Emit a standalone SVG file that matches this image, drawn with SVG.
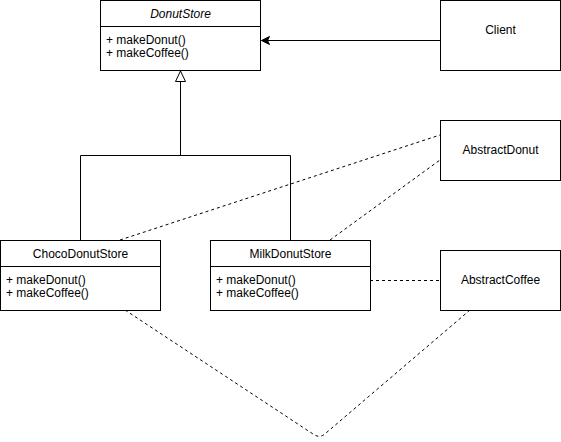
<svg xmlns="http://www.w3.org/2000/svg" width="561" height="442" viewBox="0 0 561 442">
<style>
.box{fill:#fff;stroke:#000;stroke-width:1}
.t{font-family:"Liberation Sans",Arial,sans-serif;font-size:12px;fill:#000}
.c{text-anchor:middle}
.dash{fill:none;stroke:#000;stroke-dasharray:3 3}
.solid{fill:none;stroke:#000}
</style>
<defs>
<marker id="arr" markerWidth="10" markerHeight="10" refX="8" refY="4" orient="auto" markerUnits="userSpaceOnUse">
<path d="M0,0 L8,4 L0,8 L2,4 Z" fill="#000" stroke="#000"/>
</marker>
<marker id="tri" markerWidth="14" markerHeight="14" refX="11" refY="5.5" orient="auto" markerUnits="userSpaceOnUse">
<path d="M0.5,0.5 L11,5.5 L0.5,10.5 Z" fill="#fff" stroke="#000"/>
</marker>
</defs>
<rect width="561" height="442" fill="#fff"/>
<g id="connectors">
<path class="solid" d="M440.5,40.5 L261.5,40.5" marker-end="url(#arr)"/>
<path class="solid" d="M80.5,240 L80.5,155.5 L290.5,155.5 L290.5,240"/>
<path class="solid" d="M180.5,155.5 L180.5,71" marker-end="url(#tri)"/>
<path class="dash" d="M120,240 L440,135"/>
<path class="dash" d="M330,240 L440,160"/>
<path class="dash" d="M370,280.5 L440,280.5"/>
<path class="dash" d="M125,310 L313,434 Q320,439 326,433 L470,310"/>
</g>
<g id="DonutStore">
<rect class="box" x="100.5" y="0.5" width="160" height="70"/>
<line class="solid" x1="100.5" y1="26.5" x2="260.5" y2="26.5"/>
<text class="t c" x="180.5" y="18" font-style="italic">DonutStore</text>
<text class="t" x="106" y="44">+ makeDonut()</text>
<text class="t" x="106" y="57">+ makeCoffee()</text>
</g>
<g id="Client">
<rect class="box" x="440.5" y="0.5" width="120" height="70"/>
<text class="t c" x="500.5" y="34">Client</text>
</g>
<g id="AbstractDonut">
<rect class="box" x="440.5" y="120.5" width="120" height="60"/>
<text class="t c" x="500.5" y="154">AbstractDonut</text>
</g>
<g id="AbstractCoffee">
<rect class="box" x="440.5" y="250.5" width="120" height="60"/>
<text class="t c" x="500.5" y="284">AbstractCoffee</text>
</g>
<g id="ChocoDonutStore">
<rect class="box" x="0.5" y="240.5" width="160" height="70"/>
<line class="solid" x1="0.5" y1="266.5" x2="160.5" y2="266.5"/>
<text class="t c" x="80.5" y="258">ChocoDonutStore</text>
<text class="t" x="6" y="284">+ makeDonut()</text>
<text class="t" x="6" y="297">+ makeCoffee()</text>
</g>
<g id="MilkDonutStore">
<rect class="box" x="210.5" y="240.5" width="160" height="70"/>
<line class="solid" x1="210.5" y1="266.5" x2="370.5" y2="266.5"/>
<text class="t c" x="290.5" y="258">MilkDonutStore</text>
<text class="t" x="216" y="284">+ makeDonut()</text>
<text class="t" x="216" y="297">+ makeCoffee()</text>
</g>
</svg>
